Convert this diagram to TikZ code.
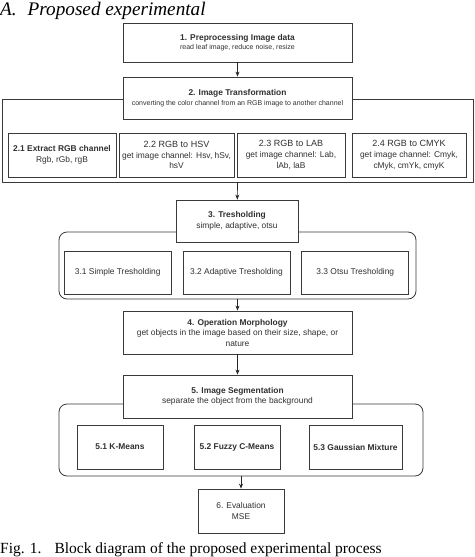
\documentclass[tikz,border=0pt]{standalone}
\usepackage{fontspec}
\setmainfont{Liberation Serif}
\setsansfont{Liberation Sans}
\usetikzlibrary{arrows.meta, positioning}

\definecolor{boxline}{HTML}{3A3A3A}
\definecolor{boxtext}{HTML}{303030}

\begin{document}
\begin{tikzpicture}[
  x=1pt, y=-1pt,
  node distance=11pt, % gap between the sub-step boxes
  stage/.style={rectangle, draw=boxline, fill=white, line width=0.8pt, minimum width=229pt, minimum height=42pt, font=\sffamily\fontsize{8.4}{10.5}\selectfont, text=boxtext, align=center, inner sep=2pt},
  substage/.style={rectangle, draw=boxline, fill=white, line width=0.8pt, minimum height=44pt, font=\sffamily\fontsize{8.4}{10.8}\selectfont, text=boxtext, align=center, inner sep=1pt},
  frame/.style={rectangle, draw=boxline, line width=0.8pt, inner sep=0pt},
  flow/.style={-{Stealth[length=5pt,width=4pt]}, line width=0.7pt, draw=black!85}
]
\useasboundingbox (0,0) rectangle (474,557);

% Heading and caption
\node[anchor=base west, inner sep=0pt, font=\itshape\fontsize{19.2}{21}\selectfont] (head) at (0,15) {A.\hspace{11pt}Proposed experimental};
\node[anchor=base west, inner sep=0pt, font=\fontsize{15.5}{17}\selectfont] (caption) at (0,553.5) {Fig. 1.\hspace{13pt}Block diagram of the proposed experimental process};

% 1. Preprocessing
\node[stage, minimum height=39pt] (pre) at (237.5,42.5) {\textbf{1. Preprocessing Image data}\\[-1pt]{\fontsize{7}{8}\selectfont read leaf image, reduce noise, resize}};

% 2. Image Transformation (frame first, box on top)
\node[frame, minimum width=471pt, minimum height=83pt] (trgrp) at (237.5,140.5) {};
\node[stage] (trans) at (237.5,98) {\textbf{2. Image Transformation}\\[-1pt]{\fontsize{7}{8}\selectfont converting the color channel from an RGB image to another channel}};
\node[substage, minimum width=108pt] (rgb) at (62,155) {\textbf{2.1 Extract RGB channel}\\Rgb, rGb, rgB};
\node[substage, minimum width=115pt] (hsv) at (176.5,155) {{\fontsize{9}{10.8}\selectfont 2.2 RGB to HSV}\\get image channel: Hsv, hSv,\\hsV};
\node[substage, minimum width=108pt] (lab) at (291,155) {{\fontsize{9}{10.8}\selectfont 2.3 RGB to LAB}\\get image channel: Lab,\\lAb, laB};
\node[substage, minimum width=114pt] (cmyk) at (409,155) {{\fontsize{9}{10.8}\selectfont 2.4 RGB to CMYK}\\get image channel: Cmyk,\\cMyk, cmYk, cmyK};

% 3. Tresholding
\node[frame, rounded corners=8pt, minimum width=357pt, minimum height=67pt] (thgrp) at (237.5,265.5) {};
\node[stage, minimum width=122pt] (thresh) at (237,221) {\textbf{3. Tresholding}\\simple, adaptive, otsu};
\node[substage, minimum width=107pt, minimum height=43pt] (th2) at (236.5,272.5) {3.2 Adaptive Tresholding};
\node[substage, minimum width=107pt, minimum height=43pt, left=of th2] (th1) {3.1 Simple Tresholding};
\node[substage, minimum width=107pt, minimum height=43pt, right=of th2] (th3) {3.3 Otsu Tresholding};

% 4. Morphology
\node[stage, minimum height=43pt] (morph) at (237.5,332.5) {\textbf{4. Operation Morphology}\\get objects in the image based on their size, shape, or\\nature};

% 5. Segmentation
\node[frame, rounded corners=8pt, minimum width=364pt, minimum height=72pt] (sggrp) at (241,440) {};
\node[stage, minimum height=43pt] (seg) at (237.5,396.5) {\textbf{5. Image Segmentation}\\separate the object from the background};
\node[substage, minimum width=86pt] (kmeans) at (120,447) {\textbf{5.1 K-Means}};
\node[substage, minimum width=86pt] (fcm) at (237,447) {\textbf{5.2 Fuzzy C-Means}};
\node[substage, minimum width=93pt] (gmm) at (355.5,447) {\textbf{5.3 Gaussian Mixture}};

% 6. Evaluation
\node[substage, minimum width=86pt] (eval) at (241,511) {6. Evaluation\\MSE};

% Flow between stages
\draw[flow] (pre) -- (trans);
\draw[flow] (trgrp.south) -- (thresh);
\draw[flow] (thgrp.south) -- (morph);
\draw[flow] (morph) -- (seg);
\draw[flow] (sggrp.south) -- (eval);

\end{tikzpicture}
\end{document}
